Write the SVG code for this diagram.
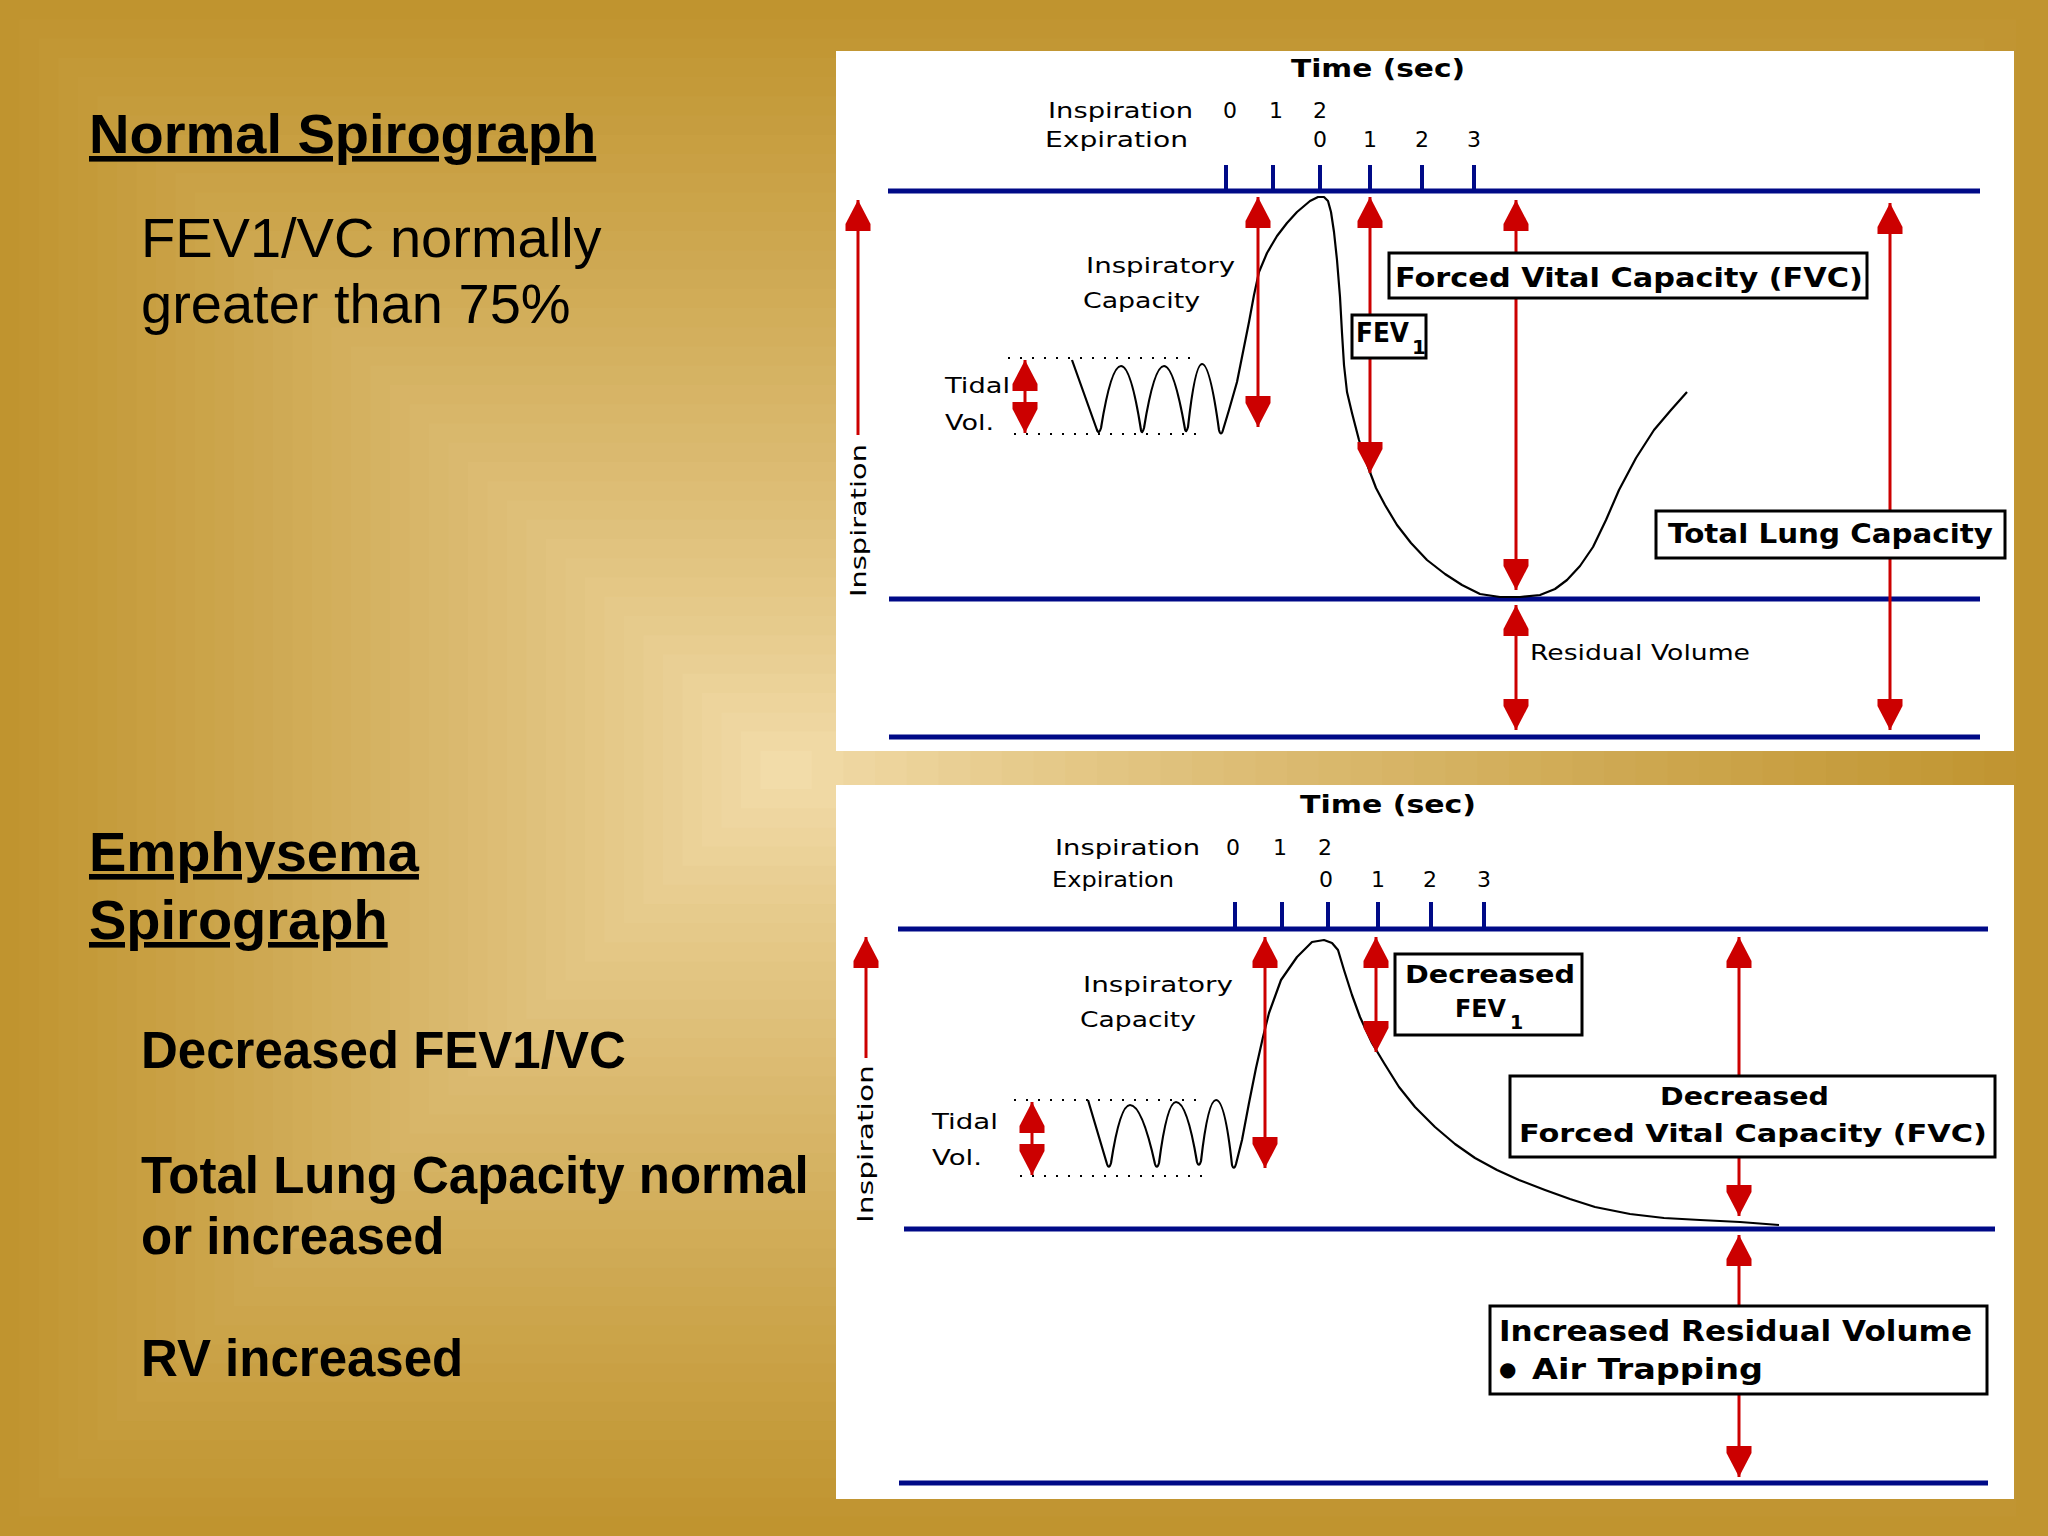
<svg xmlns="http://www.w3.org/2000/svg" width="2048" height="1536" viewBox="0 0 2048 1536">
<style>
.lbl{font-family:"DejaVu Sans",sans-serif;font-size:22px;fill:#000}
.bld{font-family:"DejaVu Sans",sans-serif;font-weight:bold;fill:#000}
.blue{stroke:#000a87;stroke-width:5;fill:none}
.tick{stroke:#000a87;stroke-width:4}
.red{stroke:#cc0000;stroke-width:3;fill:none;marker-start:url(#ah);marker-end:url(#ah)}
.red1{stroke:#cc0000;stroke-width:3;fill:none;marker-end:url(#ah)}
.box{fill:#fff;stroke:#000;stroke-width:3}
.curve{fill:none;stroke:#000;stroke-width:2.2;stroke-linejoin:round}
.dot{stroke:#000;stroke-width:2;stroke-dasharray:2 10}
.slide{font-family:"Liberation Sans",Arial,sans-serif;fill:#000}
.panel{fill:#fff}
</style>
<defs>
<marker id="ah" viewBox="-32 -13 33 26" refX="0" refY="0" markerWidth="33" markerHeight="26" markerUnits="userSpaceOnUse" orient="auto-start-reverse">
<path d="M0,0 L-24,-12.5 L-31,-12.5 L-31,12.5 L-24,12.5 Z" fill="#cc0000"/>
</marker>
</defs>
<g id="background">
<rect x="0" y="0" width="2048" height="1536" fill="#c0942f"/>
<rect x="19.5" y="19.25" width="1996.8" height="1497.6" fill="#c19532"/>
<rect x="39" y="38.5" width="1945.6" height="1459.2" fill="#c29734"/>
<rect x="58.5" y="57.75" width="1894.4" height="1420.8" fill="#c39937"/>
<rect x="78" y="77" width="1843.2" height="1382.4" fill="#c49a39"/>
<rect x="97.5" y="96.25" width="1792" height="1344" fill="#c59c3c"/>
<rect x="117" y="115.5" width="1740.8" height="1305.6" fill="#c69d3f"/>
<rect x="136.5" y="134.75" width="1689.6" height="1267.2" fill="#c89f41"/>
<rect x="156" y="154" width="1638.4" height="1228.8" fill="#c9a044"/>
<rect x="175.5" y="173.25" width="1587.2" height="1190.4" fill="#caa247"/>
<rect x="195" y="192.5" width="1536" height="1152" fill="#cba449"/>
<rect x="214.5" y="211.75" width="1484.8" height="1113.6" fill="#cca54c"/>
<rect x="234" y="231" width="1433.6" height="1075.2" fill="#cda74f"/>
<rect x="253.5" y="250.25" width="1382.4" height="1036.8" fill="#cea852"/>
<rect x="273" y="269.5" width="1331.2" height="998.4" fill="#cfaa55"/>
<rect x="292.5" y="288.75" width="1280" height="960" fill="#d1ac57"/>
<rect x="312" y="308" width="1228.8" height="921.6" fill="#d2ae5a"/>
<rect x="331.5" y="327.25" width="1177.6" height="883.2" fill="#d3af5d"/>
<rect x="351" y="346.5" width="1126.4" height="844.8" fill="#d4b160"/>
<rect x="370.5" y="365.75" width="1075.2" height="806.4" fill="#d5b363"/>
<rect x="390" y="385" width="1024" height="768" fill="#d7b466"/>
<rect x="409.5" y="404.25" width="972.8" height="729.6" fill="#d8b669"/>
<rect x="429" y="423.5" width="921.6" height="691.2" fill="#d9b86c"/>
<rect x="448.5" y="442.75" width="870.4" height="652.8" fill="#dab96f"/>
<rect x="468" y="462" width="819.2" height="614.4" fill="#dcbb72"/>
<rect x="487.5" y="481.25" width="768" height="576" fill="#ddbd75"/>
<rect x="507" y="500.5" width="716.8" height="537.6" fill="#debf78"/>
<rect x="526.5" y="519.75" width="665.6" height="499.2" fill="#dfc17c"/>
<rect x="546" y="539" width="614.4" height="460.8" fill="#e1c37f"/>
<rect x="565.5" y="558.25" width="563.2" height="422.4" fill="#e2c582"/>
<rect x="585" y="577.5" width="512" height="384" fill="#e4c785"/>
<rect x="604.5" y="596.75" width="460.8" height="345.6" fill="#e5c989"/>
<rect x="624" y="616" width="409.6" height="307.2" fill="#e6cb8c"/>
<rect x="643.5" y="635.25" width="358.4" height="268.8" fill="#e8cd90"/>
<rect x="663" y="654.5" width="307.2" height="230.4" fill="#e9cf94"/>
<rect x="682.5" y="673.75" width="256" height="192" fill="#ebd298"/>
<rect x="702" y="693" width="204.8" height="153.6" fill="#edd49c"/>
<rect x="721.5" y="712.75" width="153.6" height="115.2" fill="#eed6a0"/>
<rect x="741" y="731.5" width="102.4" height="76.8" fill="#f0d9a4"/>
<rect x="760.5" y="750.75" width="51.2" height="38.4" fill="#f2dca9"/>
</g>
<g id="slide-text" class="slide">
<text x="89" y="153" font-size="56" font-weight="bold" text-decoration="underline">Normal Spirograph</text>
<text x="141" y="257" font-size="56">FEV1/VC normally</text>
<text x="141" y="323" font-size="56">greater than 75%</text>
<text x="89" y="871" font-size="56" font-weight="bold" text-decoration="underline">Emphysema</text>
<text x="89" y="939" font-size="56" font-weight="bold" text-decoration="underline">Spirograph</text>
<text x="141" y="1068" font-size="51" font-weight="bold">Decreased FEV1/VC</text>
<text x="141" y="1193" font-size="51" font-weight="bold">Total Lung Capacity normal</text>
<text x="141" y="1254" font-size="51" font-weight="bold">or increased</text>
<text x="141" y="1376" font-size="51" font-weight="bold">RV increased</text>
</g>

<g id="normal-spirograph">
<rect class="panel" x="836" y="51" width="1178" height="700"/>
<g id="n-axes">
<line class="blue" x1="888" y1="191" x2="1980" y2="191"/>
<line class="blue" x1="889" y1="599" x2="1980" y2="599"/>
<line class="blue" x1="889" y1="737" x2="1980" y2="737"/>
<line class="tick" x1="1226" y1="165" x2="1226" y2="191"/>
<line class="tick" x1="1273" y1="165" x2="1273" y2="191"/>
<line class="tick" x1="1320" y1="165" x2="1320" y2="191"/>
<line class="tick" x1="1370" y1="165" x2="1370" y2="191"/>
<line class="tick" x1="1422" y1="165" x2="1422" y2="191"/>
<line class="tick" x1="1474" y1="165" x2="1474" y2="191"/>
</g>
<g id="n-labels">
<text class="bld" x="1291" y="77" font-size="24" textLength="174" lengthAdjust="spacingAndGlyphs">Time (sec)</text>
<text class="lbl" x="1048" y="118" textLength="145" lengthAdjust="spacingAndGlyphs">Inspiration</text>
<text class="lbl" x="1045" y="147" textLength="143" lengthAdjust="spacingAndGlyphs">Expiration</text>
<text class="lbl" x="1230" y="118" text-anchor="middle">0</text>
<text class="lbl" x="1276" y="118" text-anchor="middle">1</text>
<text class="lbl" x="1320" y="118" text-anchor="middle">2</text>
<text class="lbl" x="1320" y="147" text-anchor="middle">0</text>
<text class="lbl" x="1370" y="147" text-anchor="middle">1</text>
<text class="lbl" x="1422" y="147" text-anchor="middle">2</text>
<text class="lbl" x="1474" y="147" text-anchor="middle">3</text>
<text class="lbl" x="1086" y="273" font-size="23" textLength="149" lengthAdjust="spacingAndGlyphs">Inspiratory</text>
<text class="lbl" x="1083" y="308" font-size="23" textLength="117" lengthAdjust="spacingAndGlyphs">Capacity</text>
<text class="lbl" x="945" y="393" font-size="24" textLength="65" lengthAdjust="spacingAndGlyphs">Tidal</text>
<text class="lbl" x="945" y="430" font-size="24" textLength="49" lengthAdjust="spacingAndGlyphs">Vol.</text>
<text class="lbl" x="1530" y="660" font-size="23" textLength="220" lengthAdjust="spacingAndGlyphs">Residual Volume</text>
<text class="lbl" transform="translate(866,597) rotate(-90)" font-size="26" textLength="153" lengthAdjust="spacingAndGlyphs">Inspiration</text>
</g>
<g id="n-trace">
<line class="dot" x1="1008" y1="358" x2="1198" y2="358"/>
<line class="dot" x1="1014" y1="434" x2="1202" y2="434"/>
<path class="curve" d="M1072,360 L1097,430 Q1099,435 1101,428 Q1111,366 1121,366 Q1131,366 1141,430 Q1142,435 1144,428 Q1154,366 1164,366 Q1174,366 1185,429 Q1186,434 1188,427 Q1195,364 1202,364 Q1210,364 1219,430 Q1221,437 1223,430 L1229,410 L1237,382 L1243,352 L1249,322 L1254,295 L1259,272 L1267,253 L1277,236 L1287,223 L1297,212 L1310,201 L1318,197 L1324,197 L1328,201 L1331,212 L1334,232 L1337,260 L1340,297 L1342,333 L1344,365 L1347,392 L1352,413 L1359,440 L1368,467 L1376,488 L1385,505 L1397,525 L1411,543 L1427,560 L1445,574 L1462,585 L1480,594 L1500,597 L1520,597 L1540,595 L1555,589 L1567,580 L1580,566 L1593,547 L1606,520 L1619,490 L1636,458 L1654,430 L1671,410 L1687,392"/>
</g>
<g id="n-connectors">
<line class="red1" x1="858" y1="435" x2="858" y2="200"/>
<line class="red" x1="1258" y1="197" x2="1258" y2="427"/>
<line class="red" x1="1025" y1="360" x2="1025" y2="433"/>
<line class="red" x1="1370" y1="197" x2="1370" y2="473"/>
<line class="red" x1="1516" y1="200" x2="1516" y2="590"/>
<line class="red" x1="1516" y1="605" x2="1516" y2="730"/>
<line class="red" x1="1890" y1="203" x2="1890" y2="730"/>
</g>
<g id="n-fvc">
<rect class="box" x="1389" y="253" width="478" height="45"/>
<text class="bld" x="1395" y="287" font-size="26" textLength="468" lengthAdjust="spacingAndGlyphs">Forced Vital Capacity (FVC)</text>
</g>
<g id="n-fev1">
<rect class="box" x="1352" y="315" width="74" height="43"/>
<text class="bld" font-size="27"><tspan x="1356" y="342" textLength="53" lengthAdjust="spacingAndGlyphs">FEV</tspan><tspan x="1412" y="354" font-size="20">1</tspan></text>
</g>
<g id="n-tlc">
<rect class="box" x="1656" y="511" width="349" height="47"/>
<text class="bld" x="1668" y="543" font-size="27" textLength="325" lengthAdjust="spacingAndGlyphs">Total Lung Capacity</text>
</g>
</g>

<g id="emphysema-spirograph">
<rect class="panel" x="836" y="785" width="1178" height="714"/>
<g id="e-axes">
<line class="blue" x1="898" y1="929" x2="1988" y2="929"/>
<line class="blue" x1="904" y1="1229" x2="1995" y2="1229"/>
<line class="blue" x1="899" y1="1483" x2="1988" y2="1483"/>
<line class="tick" x1="1235" y1="902" x2="1235" y2="929"/>
<line class="tick" x1="1282" y1="902" x2="1282" y2="929"/>
<line class="tick" x1="1328" y1="902" x2="1328" y2="929"/>
<line class="tick" x1="1378" y1="902" x2="1378" y2="929"/>
<line class="tick" x1="1431" y1="902" x2="1431" y2="929"/>
<line class="tick" x1="1484" y1="902" x2="1484" y2="929"/>
</g>
<g id="e-labels">
<text class="bld" x="1300" y="813" font-size="24" textLength="176" lengthAdjust="spacingAndGlyphs">Time (sec)</text>
<text class="lbl" x="1055" y="855" textLength="145" lengthAdjust="spacingAndGlyphs">Inspiration</text>
<text class="lbl" x="1052" y="887" textLength="122" lengthAdjust="spacingAndGlyphs">Expiration</text>
<text class="lbl" x="1233" y="855" text-anchor="middle">0</text>
<text class="lbl" x="1280" y="855" text-anchor="middle">1</text>
<text class="lbl" x="1325" y="855" text-anchor="middle">2</text>
<text class="lbl" x="1326" y="887" text-anchor="middle">0</text>
<text class="lbl" x="1378" y="887" text-anchor="middle">1</text>
<text class="lbl" x="1430" y="887" text-anchor="middle">2</text>
<text class="lbl" x="1484" y="887" text-anchor="middle">3</text>
<text class="lbl" x="1083" y="992" font-size="23" textLength="150" lengthAdjust="spacingAndGlyphs">Inspiratory</text>
<text class="lbl" x="1080" y="1027" font-size="23" textLength="116" lengthAdjust="spacingAndGlyphs">Capacity</text>
<text class="lbl" x="932" y="1129" font-size="24" textLength="66" lengthAdjust="spacingAndGlyphs">Tidal</text>
<text class="lbl" x="932" y="1165" font-size="24" textLength="50" lengthAdjust="spacingAndGlyphs">Vol.</text>
<text class="lbl" transform="translate(873,1223) rotate(-90)" font-size="26" textLength="158" lengthAdjust="spacingAndGlyphs">Inspiration</text>
</g>
<g id="e-trace">
<line class="dot" x1="1014" y1="1100" x2="1202" y2="1100"/>
<line class="dot" x1="1020" y1="1176" x2="1207" y2="1176"/>
<path class="curve" d="M1088,1100 L1107,1164 Q1109,1170 1111,1163 Q1120,1105 1130,1105 Q1142,1105 1155,1164 Q1157,1170 1159,1163 Q1167,1102 1176,1102 Q1187,1102 1197,1162 Q1199,1168 1201,1161 Q1208,1100 1216,1100 Q1225,1100 1232,1165 Q1234,1171 1236,1164 L1242,1140 L1249,1103 L1256,1068 L1263,1037 L1269,1013 L1281,980 L1297,957 L1312,942 L1324,940 L1332,943 L1338,950 L1344,970 L1352,995 L1360,1017 L1372,1043 L1384,1063 L1399,1087 L1415,1107 L1435,1127 L1455,1144 L1475,1158 L1497,1170 L1519,1180 L1545,1190 L1570,1199 L1595,1207 L1630,1214 L1664,1218 L1700,1220 L1740,1222 L1779,1225"/>
</g>
<g id="e-connectors">
<line class="red1" x1="866" y1="1058" x2="866" y2="937"/>
<line class="red" x1="1265" y1="937" x2="1265" y2="1168"/>
<line class="red" x1="1032" y1="1102" x2="1032" y2="1175"/>
<line class="red" x1="1376" y1="937" x2="1376" y2="1052"/>
<line class="red" x1="1739" y1="937" x2="1739" y2="1216"/>
<line class="red" x1="1739" y1="1235" x2="1739" y2="1477"/>
</g>
<g id="e-fev1">
<rect class="box" x="1395" y="954" width="187" height="81"/>
<text class="bld" x="1405" y="983" font-size="24" textLength="170" lengthAdjust="spacingAndGlyphs">Decreased</text>
<text class="bld" font-size="24"><tspan x="1455" y="1017" textLength="51" lengthAdjust="spacingAndGlyphs">FEV</tspan><tspan x="1510" y="1029" font-size="19">1</tspan></text>
</g>
<g id="e-fvc">
<rect class="box" x="1510" y="1076" width="485" height="81"/>
<text class="bld" x="1660" y="1105" font-size="24" textLength="169" lengthAdjust="spacingAndGlyphs">Decreased</text>
<text class="bld" x="1519" y="1142" font-size="25" textLength="468" lengthAdjust="spacingAndGlyphs">Forced Vital Capacity (FVC)</text>
</g>
<g id="e-rv">
<rect class="box" x="1490" y="1306" width="497" height="88"/>
<text class="bld" x="1499" y="1341" font-size="29" textLength="473" lengthAdjust="spacingAndGlyphs">Increased Residual Volume</text>
<text class="bld" x="1499" y="1379" font-size="29"><tspan font-size="20" dy="-3">●</tspan><tspan x="1532" y="1379" textLength="231" lengthAdjust="spacingAndGlyphs">Air Trapping</tspan></text>
</g>
</g>
</svg>
